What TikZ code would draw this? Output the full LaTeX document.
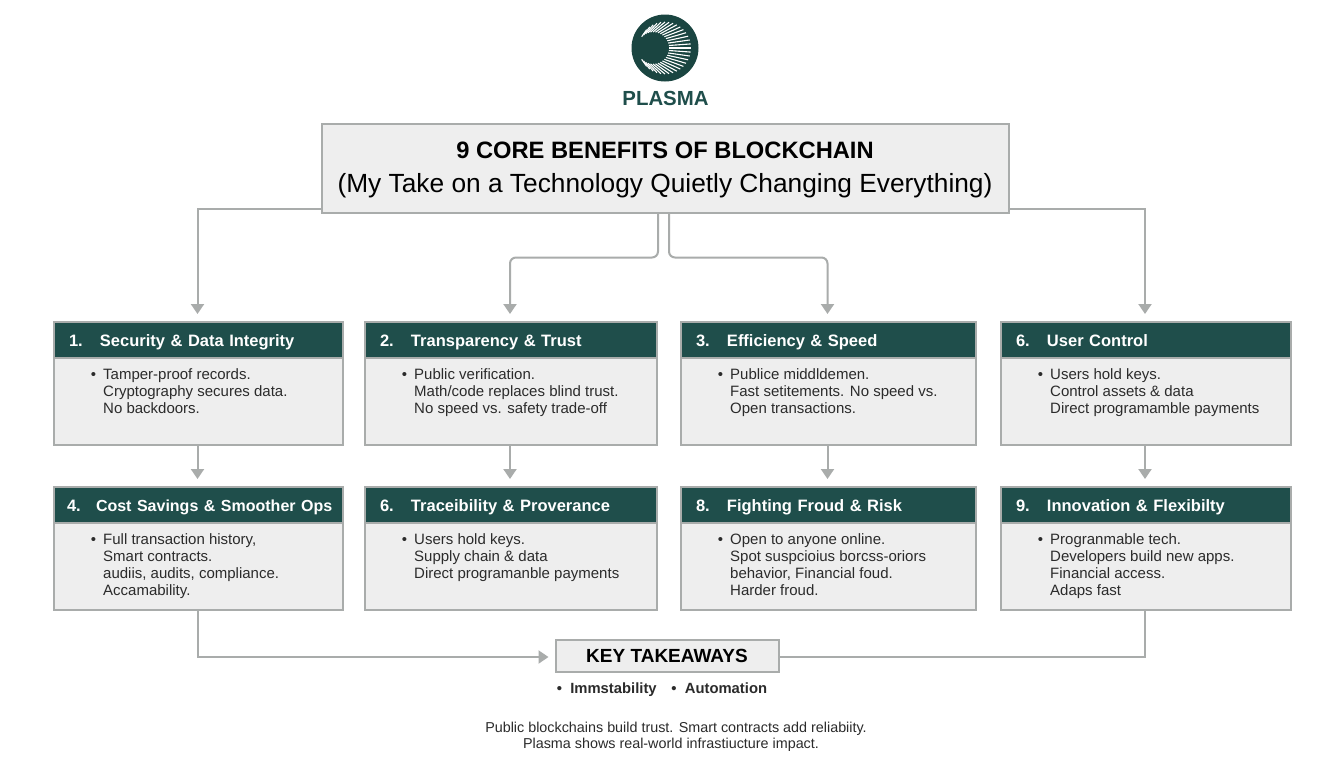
\documentclass[tikz,border=0pt]{standalone}
\usepackage{fontspec}
\setmainfont{Liberation Sans}
\usetikzlibrary{arrows.meta, positioning}
\definecolor{green1}{HTML}{1F4E4B}
\definecolor{green2}{HTML}{1A4541}
\definecolor{gray1}{HTML}{A9ACAB}
\definecolor{gray2}{HTML}{EEEEEE}
\definecolor{ink1}{HTML}{2B2B2B}
\tikzset{
  cardhead/.style={draw=gray1, fill=green1, line width=2pt, outer sep=0pt, inner xsep=0pt, inner ysep=0pt, minimum height=36pt, text height=12pt, text depth=0pt, text=white, align=left, font=\fontsize{16.5}{20}\selectfont\bfseries},
  cardbody/.style={draw=gray1, fill=gray2, line width=2pt, outer sep=0pt, inner sep=0pt, minimum height=88pt},
  cardtext/.style={inner sep=0pt, align=left, text=ink1, font=\fontsize{15}{17}\selectfont},
  linkline/.style={draw=gray1, line width=2pt},
  linkarrow/.style={linkline, -{Triangle[length=10pt, width=13pt]}, shorten >=8pt}
}
% #1 number column, #2 id, #3 x, #4 y, #5 width, #6 number, #7 title, #8 lines
\newcommand{\benefit}[8][31pt]{
  \node[cardbody, anchor=north west, minimum width=#5pt] (body#2) at (#3,#4+35) {};
  \node[cardhead, anchor=north west, minimum width=#5pt, text width=#5pt] (head#2) at (#3,#4) {\hspace*{15pt}\makebox[#1][l]{#6}#7};
  \node[cardtext, anchor=north west] (text#2) at ([xshift=49pt,yshift=-11pt]body#2.north west) {\llap{\textbullet\hspace{7pt}}#8};
}

\begin{document}
\begin{tikzpicture}[x=1pt, y=-1pt]
  \useasboundingbox (0,0) rectangle (1320,764);
  \fill[white] (0,0) rectangle (1320,764);

  % logo
  \fill[green2] (665,48) circle (33.5);
  \foreach \a in {-135,-126,...,135}
    \draw[white, line width=1.1pt] ({653+16*cos(\a)},{48+16*sin(\a)}) -- ({665+26*cos(\a)},{48+26*sin(\a)});
  \node[text=green1, font=\fontsize{20.4}{24}\selectfont\bfseries] (brand) at (665.5,98) {PLASMA};

  \node[draw=gray1, fill=gray2, line width=2pt, outer sep=0pt, minimum width=687pt, minimum height=89pt, align=center, text=black, font=\fontsize{26.3}{34}\selectfont] (title) at (665,168) {\rule{0pt}{21pt}{\fontsize{23.7}{34}\selectfont\bfseries 9 CORE BENEFITS OF BLOCKCHAIN}\\(My Take on a Technology Quietly Changing Everything)};

  \benefit{1}{54}{322}{289}{1.}{Security \& Data Integrity}{Tamper-proof records.\\Cryptography secures data.\\No backdoors.}
  \benefit{2}{365}{322}{292}{2.}{Transparency \& Trust}{Public verification.\\Math/code replaces blind trust.\\No speed vs. safety trade-off}
  \benefit{3}{681}{322}{295}{3.}{Efficiency \& Speed}{Publice middldemen.\\Fast setitements. No speed vs.\\Open transactions.}
  \benefit{6}{1001}{322}{290}{6.}{User Control}{Users hold keys.\\Control assets \& data\\Direct programamble payments}
  \benefit[27pt]{4}{54}{487}{289}{\hspace*{-2pt}4.}{\fontsize{16}{20}\selectfont Cost Savings \& Smoother Ops}{Full transaction history,\\Smart contracts.\\audiis, audits, compliance.\\Accamability.}
  \benefit{5}{365}{487}{292}{6.}{Traceibility \& Proverance}{Users hold keys.\\Supply chain \& data\\Direct programanble payments}
  \benefit{8}{681}{487}{295}{8.}{Fighting Froud \& Risk}{Open to anyone online.\\Spot suspcioius borcss-oriors\\behavior, Financial foud.\\Harder froud.}
  \benefit{9}{1001}{487}{290}{9.}{Innovation \& Flexibilty}{Progranmable tech.\\Developers build new apps.\\Financial access.\\Adaps fast}

  \node[draw=gray1, fill=gray2, line width=2pt, outer sep=0pt, minimum width=223pt, minimum height=32pt, text=black, font=\fontsize{19}{22}\selectfont\bfseries] (takeaways) at (667,655.5) {KEY TAKEAWAYS};
  \node[text=ink1, font=\fontsize{14.8}{17}\selectfont\bfseries] (points) at (662,690) {\textbullet\ \ Immstability\quad\textbullet\ \ Automation};
  \node[cardtext, align=center, font=\fontsize{14.35}{16}\selectfont] (closing) at (676,737) {Public blockchains build trust. Smart contracts add reliabiity.\\\hspace*{-10pt}Plasma shows real-world infrastiucture impact.};

  % top links
  \draw[linkarrow] ([yshift=4pt]title.south west) -| ([xshift=-1pt]head1.north);
  \draw[linkarrow] ([yshift=4pt]title.south east) -| ([xshift=-1pt]head6.north);
  \draw[linkarrow, rounded corners=6pt] ([xshift=-7pt]title.south) -- ++(0,45) -| ([xshift=-1pt]head2.north);
  \draw[linkarrow, rounded corners=6pt] ([xshift=4pt]title.south) -- ++(0,45) -| ([xshift=-1pt]head3.north);

  % row links
  \foreach \upper/\lower in {1/4, 2/5, 3/8, 6/9}
    \draw[linkarrow] ([xshift=-1pt]body\upper.south) -- ([xshift=-1pt]head\lower.north);

  % bottom links
  \draw[linkarrow, shorten >=7pt] ([xshift=-1pt]body4.south) |- ([yshift=-1.5pt]takeaways.west);
  \draw[linkline] ([xshift=-1pt]body9.south) |- ([yshift=-1.5pt]takeaways.east);
\end{tikzpicture}
\end{document}
